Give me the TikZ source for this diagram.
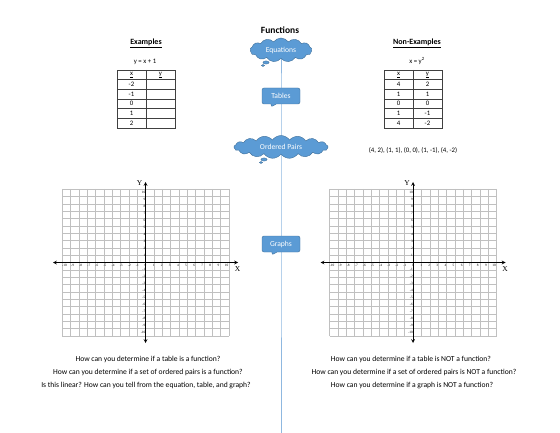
\documentclass[tikz,border=0pt]{standalone}
\usepackage{fontspec}
\setmainfont{Carlito}
\newfontfamily\axisfont{Liberation Serif}
\usetikzlibrary{shapes.symbols,shapes.callouts,backgrounds}
\definecolor{calloutblue}{HTML}{5B9BD5}
\definecolor{calloutedge}{HTML}{41719C}
\definecolor{spineblue}{HTML}{8FB8E0}
\definecolor{gridgray}{HTML}{C0C0C0}
\begin{document}
\begin{tikzpicture}[x = 1pt, y = -1pt,
		every node/.style = {font = \fontsize{6.8}{7.5}\selectfont},
		heading/.style = {font = \fontsize{8}{9}\selectfont\bfseries},
		question/.style = {font = \fontsize{7.6}{8.5}\selectfont},
		cloudbox/.style = {cloud, cloud puffs = 17, cloud puff arc = 110, cloud ignores aspect, inner sep = 0pt, fill = calloutblue, draw = calloutedge, line width = 0.4pt, text = white, font = \fontsize{7.6}{8}\selectfont},
		puff/.style = {fill = calloutblue, draw = calloutedge, line width = 0.4pt},
		tagbox/.style = {rectangle callout, rounded corners = 2pt, fill = calloutblue, draw = calloutedge, line width = 0.4pt, text = white, minimum width = 38pt, minimum height = 16pt, inner sep = 1pt, callout pointer width = 5pt, font = \fontsize{7.6}{8}\selectfont},
		tableline/.style = {draw = black!75, line width = 0.6pt},
		gridline/.style = {gridgray, line width = 0.35pt},
		axisline/.style = {black, line width = 0.7pt, <->, >=stealth},
		tick/.style = {font = \axisfont\fontsize{3.4}{3.6}\selectfont, inner sep = 0.3pt},
		axislabel/.style = {font = \axisfont\fontsize{7.5}{8}\selectfont}]
	\useasboundingbox (0,0) rectangle (560,433);
	\node [font = \fontsize{9.5}{11}\selectfont\bfseries] (title) at (280,30) {Functions};
	% centre column
	\node [cloudbox, cloud puffs = 13, minimum width = 62pt, minimum height = 24pt] (eq) at (281,50) {Equations};
	\node [tagbox, callout absolute pointer = {(271,107)}] (tab) at (281,96) {Tables};
	\node [cloudbox, minimum width = 94pt, minimum height = 23pt] (op) at (281,147) {Ordered Pairs};
	\node [tagbox, callout absolute pointer = {(272,255)}] (gr) at (281,244) {Graphs};
	\coordinate (bot) at (281,433);
	\begin{scope}[on background layer]
		\draw [spineblue, line width = 0.8pt] (eq.center) -- (tab.center) -- (op.center) -- (gr.center) -- (bot);
	\end{scope}
	\filldraw [puff] (266,62.5) ellipse (3pt and 1.6pt);
	\filldraw [puff] (263,65.5) ellipse (1.6pt and 1pt);
	\filldraw [puff] (264,159.5) ellipse (3pt and 1.6pt);
	\filldraw [puff] (261,162.5) ellipse (1.6pt and 1pt);
	% examples
	\node [heading] (exhead) at (146,43) {\underline{Examples}};
	\node (exeq) at (145,62) {y = x + 1};
	\draw [tableline] (117,70) rectangle (175,128);
	\draw [tableline] (146,70) -- (146,128);
	\foreach \r in {1,...,5}
		\draw [tableline] (117,{70+\r*9.67}) -- (175,{70+\r*9.67});
	\node (exx) at (131.5,75) {\underline{x}};
	\node (exy) at (160.5,75) {\underline{y}};
	\foreach \v [count = \r] in {-2,-1,0,1,2}
		\node at (131.5,{70+\r*9.67+4.8}) {\v};
	% non-examples
	\node [heading] (nonhead) at (417,43) {\underline{Non-Examples}};
	\node (noneq) at (417,61) {x = y\textsuperscript{2}};
	\draw [tableline] (384,70) rectangle (442,128);
	\draw [tableline] (413,70) -- (413,128);
	\foreach \r in {1,...,5}
		\draw [tableline] (384,{70+\r*9.67}) -- (442,{70+\r*9.67});
	\node (nonx) at (398.5,75) {\underline{x}};
	\node (nony) at (427.5,75) {\underline{y}};
	\foreach \a/\b [count = \r] in {4/2,1/1,0/0,1/-1,4/-2} {
		\node at (398.5,{70+\r*9.67+4.8}) {\a};
		\node at (427.5,{70+\r*9.67+4.8}) {\b};
	}
	\node (pairs) at (413,150) {(4, 2), (1, 1), (0, 0), (1, -1), (4, -2)};
	% coordinate planes
	\foreach \ox in {145.5,413} {
		\begin{scope}[shift = {(\ox,262.5)}]
			\foreach \k in {-10,...,10} {
				\draw [gridline] ({\k*8.35},-73.5) -- ({\k*8.35},73.5);
				\draw [gridline] (-83.5,{\k*7.35}) -- (83.5,{\k*7.35});
			}
			\draw [axisline] (-92.5,0) -- (92.5,0);
			\draw [axisline] (0,80.5) -- (0,-80.5);
			\node [axislabel] at (92,6.5) {X};
			\node [axislabel] at (-6,-79) {Y};
			\foreach \k in {-10,...,10}
				\node [tick] at ({\k*8.1},3) {\k};
			\foreach \k in {-10,...,-1,1,2,...,10}
				\node [tick, anchor = east] at (0.3,{-\k*7.0}) {\k};
		\end{scope}
	}
	% questions
	\node [question] (q1) at (148,359) {How can you determine if a table is a function?};
	\node [question] (q2) at (148,372) {How can you determine if a set of ordered pairs is a function?};
	\node [question] (q3) at (146,386) {Is this linear? How can you tell from the equation, table, and graph?};
	\node [question] (q4) at (411,359) {How can you determine if a table is NOT a function?};
	\node [question] (q5) at (414,372) {How can you determine if a set of ordered pairs is NOT a function?};
	\node [question] (q6) at (412,386) {How can you determine if a graph is NOT a function?};
\end{tikzpicture}
\end{document}
